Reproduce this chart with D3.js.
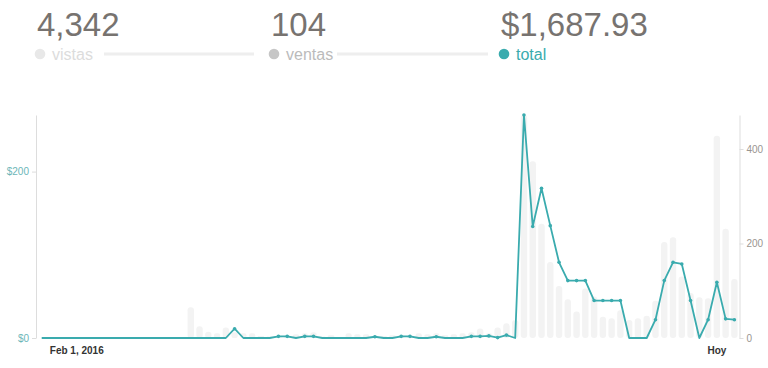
<!DOCTYPE html>
<html>
<head>
<meta charset="utf-8">
<script src="https://cdnjs.cloudflare.com/ajax/libs/d3/7.8.5/d3.min.js"></script>
<style>
  body { margin: 0; background: #fff; }
  svg { display: block; font-family: "Liberation Sans", Arial, sans-serif; }
</style>
</head>
<body>
<svg id="chart"></svg>
<script>
// resumen arriba
var summaryLabels = ["vistas", "ventas", "total"];
var summaryValues = ["4,342", "104", "$1,687.93"];

// dias: 80 puntos, empieza el 28 de enero de 2016
var tickIndex = [4, 77];
var tickLabels = ["Feb 1, 2016", "Hoy"];
var leftTicks = [0, 200];
var rightTicks = [0, 200, 400];

// vistas por dia (barras, eje derecho)
var vistas = [
  0, 0, 0, 0, 0, 0, 0, 0, 0, 0,
  0, 0, 0, 0, 0, 0, 0, 65, 25, 13,
  10, 22, 12, 10, 10, 4, 3, 4, 5, 8,
  10, 12, 3, 6, 2, 10, 8, 8, 4, 4,
  6, 6, 5, 10, 8, 10, 6, 8, 10, 12,
  20, 10, 22, 31, 38, 472, 374, 242, 161, 110,
  82, 56, 105, 88, 45, 42, 59, 38, 42, 47,
  79, 203, 213, 130, 95, 86, 84, 428, 231, 125
];

// total en $ por dia (linea, eje izquierdo)
var total = [
  0, 0, 0, 0, 0, 0, 0, 0, 0, 0,
  0, 0, 0, 0, 0, 0, 0, 0, 0, 0,
  0, 0, 11.2, 0, 0, 0, 0, 1.99, 1.99, 0,
  1.99, 1.99, 0, 0, 0, 0, 0, 0, 1.5, 0,
  0, 1.99, 1.99, 0, 0, 1.5, 0, 0, 0, 1.99,
  1.99, 2.5, 0.5, 3.5, 0, 268, 134, 180, 135, 91,
  69, 69, 69, 45, 45, 45, 45, 0, 0, 0,
  22, 69, 91, 89, 45, 0, 22, 67, 23, 22
];

var width = 768, height = 368;
var teal = "#3aabae";

var svg = d3.select("#chart")
  .attr("width", width)
  .attr("height", height);

// ---- encabezado ----
var colX = [37, 271, 501];
var dotColor = ["#e8e8e8", "#c6c6c6", teal];
var labelColor = ["#dcdcdc", "#bbbbbb", teal];

var head = svg.append("g");

head.selectAll(".num")
  .data(summaryValues)
  .enter().append("text")
  .attr("x", function(d, i) { return colX[i]; })
  .attr("y", 36)
  .attr("font-size", 33)
  .attr("fill", "#777370")
  .text(function(d) { return d; });

head.selectAll(".dot")
  .data(summaryLabels)
  .enter().append("circle")
  .attr("cx", function(d, i) { return colX[i] + 3; })
  .attr("cy", 54)
  .attr("r", 5.3)
  .attr("fill", function(d, i) { return dotColor[i]; });

head.selectAll(".lbl")
  .data(summaryLabels)
  .enter().append("text")
  .attr("x", function(d, i) { return colX[i] + 15; })
  .attr("y", 59.5)
  .attr("font-size", 16)
  .attr("fill", function(d, i) { return labelColor[i]; })
  .text(function(d) { return d; });

// rayitas entre grupos
var sepLines = [[104, 254], [337, 488]];
head.selectAll(".sep")
  .data(sepLines)
  .enter().append("line")
  .attr("x1", function(d) { return d[0]; })
  .attr("x2", function(d) { return d[1]; })
  .attr("y1", 54)
  .attr("y2", 54)
  .attr("stroke", "#eeeeee")
  .attr("stroke-width", 3);

// ---- grafico ----
var plotTop = 115, plotBottom = 338, axisL = 36, axisR = 739.5;

var x = d3.scaleLinear()
  .domain([0, vistas.length - 1])
  .range([41.7, 734.4]);

var yL = d3.scaleLinear()
  .domain([0, d3.max(total)])
  .range([plotBottom, plotTop]);

var yR = d3.scaleLinear()
  .domain([0, d3.max(vistas)])
  .range([plotBottom, plotTop]);

var barW = 6.4;

svg.append("g")
  .selectAll("rect")
  .data(vistas)
  .enter().append("rect")
  .attr("x", function(d, i) { return x(i) - barW / 2; })
  .attr("y", function(d) { return yR(d); })
  .attr("width", barW)
  .attr("height", function(d) { return plotBottom - yR(d); })
  .attr("rx", function(d) { return Math.min(3, (plotBottom - yR(d)) / 2); })
  .attr("fill", "#f3f3f3");

// eje izquierdo
var gl = svg.append("g")
  .attr("transform", "translate(" + axisL + ",0)")
  .call(d3.axisLeft(yL).tickValues(leftTicks).tickSize(4).tickSizeOuter(0)
    .tickPadding(3).tickFormat(function(d) { return "$" + d; }));
gl.select(".domain").attr("stroke", "#dddddd");
gl.selectAll(".tick line").attr("stroke", "#dddddd");
gl.selectAll(".tick text").attr("fill", "#6cb6b8").attr("font-size", 10)
  .attr("font-family", "Liberation Sans, Arial, sans-serif");

// eje derecho
var gr = svg.append("g")
  .attr("transform", "translate(" + axisR + ",0)")
  .call(d3.axisRight(yR).tickValues(rightTicks).tickSize(4).tickSizeOuter(0)
    .tickPadding(3));
gr.select(".domain").attr("stroke", "#dddddd");
gr.selectAll(".tick line").attr("stroke", "#dddddd");
gr.selectAll(".tick text").attr("fill", "#9a9590").attr("font-size", 10)
  .attr("font-family", "Liberation Sans, Arial, sans-serif");

// linea del total
var line = d3.line()
  .x(function(d, i) { return x(i); })
  .y(function(d) { return yL(d); });

svg.append("path")
  .datum(total)
  .attr("d", line)
  .attr("fill", "none")
  .attr("stroke", teal)
  .attr("stroke-width", 1.8)
  .attr("stroke-linejoin", "round");

svg.append("g")
  .selectAll("circle")
  .data(total.map(function(v, i) { return { i: i, v: v }; }).filter(function(d) { return d.v > 0; }))
  .enter().append("circle")
  .attr("cx", function(d) { return x(d.i); })
  .attr("cy", function(d) { return yL(d.v); })
  .attr("r", 1.8)
  .attr("fill", teal);

// fechas abajo
svg.append("g")
  .selectAll("text")
  .data(tickIndex)
  .enter().append("text")
  .attr("x", function(d) { return x(d); })
  .attr("y", 354)
  .attr("text-anchor", "middle")
  .attr("font-size", 10)
  .attr("font-weight", "bold")
  .attr("fill", "#333")
  .text(function(d, i) { return tickLabels[i]; });
</script>
</body>
</html>
